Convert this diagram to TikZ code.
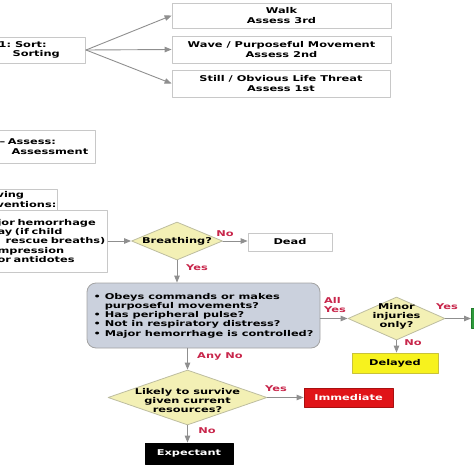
\documentclass[tikz,border=0pt]{standalone}
\usepackage{fontspec}
\setmainfont{DejaVu Sans}[FakeStretch=1.42]
\usetikzlibrary{arrows.meta,shapes.geometric}
\definecolor{boxLine}{HTML}{C8C8C8}
\definecolor{arrowGray}{HTML}{8F8F8F}
\definecolor{lblRed}{HTML}{C8264B}
\definecolor{diaFill}{HTML}{F3F0B5}
\definecolor{diaLine}{HTML}{BDBDA0}
\definecolor{qFill}{HTML}{CBD1DD}
\definecolor{qLine}{HTML}{A3A3A3}
\definecolor{delFill}{HTML}{F7F21E}
\definecolor{delLine}{HTML}{C9C23A}
\definecolor{immFill}{HTML}{E01418}
\definecolor{immLine}{HTML}{A81010}
\definecolor{minFill}{HTML}{2E9B3C}
\definecolor{minLine}{HTML}{1F7A2A}
\begin{document}
\begin{tikzpicture}[x=1pt,y=-1pt,font=\bfseries\fontsize{8}{9.3}\selectfont,line join=round,line cap=round,
    >={Triangle[length=7pt,width=5.5pt]},
    box/.style={draw=boxLine,fill=white,line width=0.8pt,inner sep=0pt,align=center},
    decision/.style={shape=diamond,draw=diaLine,fill=diaFill,line width=0.8pt,inner sep=0pt},
    lbl/.style={text=lblRed,inner sep=0pt},
    link/.style={->,draw=arrowGray,line width=0.9pt}]
\useasboundingbox (0,0) rectangle (474,474);
\clip (0,0) rectangle (474,474);
% step 1 : sorting
\node[box,anchor=east,align=left,text width=82pt,inner xsep=5pt,minimum height=26] (sort) at (86,50) {1: Sort:\\\hspace*{14pt}Sorting};
\node[box,minimum width=219,minimum height=25] (walk) at (281.5,15.5) {Walk\\Assess 3rd};
\node[box,minimum width=219,minimum height=27] (wave) at (281.5,49.5) {Wave / Purposeful Movement\\Assess 2nd};
\node[box,minimum width=218,minimum height=27] (still) at (281,83.5) {Still / Obvious Life Threat\\Assess 1st};
\foreach \n in {walk,wave,still}
  \draw[link] (sort.east) -- (\n.west);
% step 2 : assessment
\node[box,anchor=east,align=left,text width=90pt,inner xsep=6pt,minimum height=33] (assess) at (96,146.5) {– Assess:\\\hspace*{12pt}Assessment};
\node[box,anchor=east,align=left,text width=58pt,inner xsep=3pt,minimum height=21] (life) at (58,199.5) {ving\\ventions:};
\node[box,anchor=east,align=left,text width=110pt,inner xsep=0pt,minimum height=62] (rescue) at (108,241) {jor hemorrhage\\ay (if child\\\hspace*{8pt}rescue breaths)\\mpression\\or antidotes};
\node[decision,minimum width=91,minimum height=38,label={center:Breathing?}] (breath) at (177,241) {};
\node[box,minimum width=84,minimum height=18] (dead) at (290,242) {Dead};
\node[box,draw=qLine,fill=qFill,rounded corners=9pt,minimum width=233,minimum height=65,align=left] (checks) at (203.5,315.5)
  {• Obeys commands or makes\\\hphantom{•} purposeful movements?\\• Has peripheral pulse?\\• Not in respiratory distress?\\• Major hemorrhage is controlled?};
\node[decision,minimum width=97,minimum height=43,label={[align=center,yshift=2pt]center:Minor\\injuries\\only?}] (minor) at (396.5,318.5) {};
\node[box,draw=minLine,fill=minFill,anchor=west,minimum width=20,minimum height=20] (minimal) at (471,318) {};
\node[box,draw=delLine,fill=delFill,minimum width=86,minimum height=20] (delayed) at (395,363) {Delayed};
\node[decision,minimum width=159,minimum height=55,label={[align=center,yshift=-3pt]center:Likely to survive\\given current\\resources?}] (likely) at (187.5,397.5) {};
\node[box,draw=immLine,fill=immFill,text=white,minimum width=89,minimum height=19] (immediate) at (348.5,397.5) {Immediate};
\node[box,draw=black,fill=black,text=white,minimum width=88,minimum height=21] (expectant) at (189,453.5) {Expectant};
% connectors
\draw[link] (rescue) -- (breath);
\draw[link] (breath.east) -- (dead.west |- breath.east);
\draw[link] (breath.south) -- (breath.south |- checks.north);
\draw[link] (checks.east |- minor.west) -- (minor.west);
\draw[link] (minor.east) -- (minimal.west |- minor.east);
\draw[link] (minor.south) -- (minor.south |- delayed.north);
\draw[link] (likely.north |- checks.south) -- (likely.north);
\draw[link] (likely.east) -- (immediate.west);
\draw[link] (likely.south) -- (likely.south |- expectant.north);
% answers
\foreach \n/\t/\x/\y in {noDead/No/225/234,yesChecks/Yes/197/268,yesMinimal/Yes/447/307,noDelayed/No/413/343,
    anyNo/Any No/220/356,yesImmediate/Yes/276/389,noExpectant/No/207/431}
  \node[lbl] (\n) at (\x,\y) {\t};
\node[lbl,anchor=west,align=left] (allYes) at (324,305) {All\\Yes};
\end{tikzpicture}
\end{document}
